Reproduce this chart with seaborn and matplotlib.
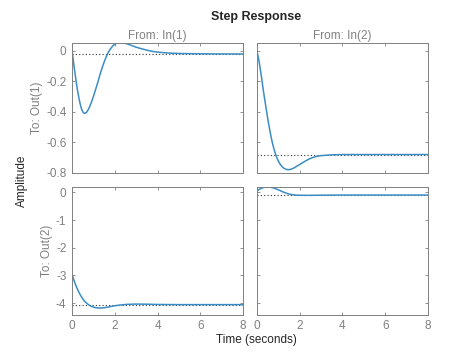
import matplotlib
matplotlib.use("Agg")
import matplotlib.pyplot as plt
import seaborn as sns
import pandas as pd

# Step response values (time in seconds)
t_11 = [0, 0.05, 0.1, 0.15, 0.2, 0.25, 0.3, 0.35, 0.4, 0.45, 0.5, 0.55, 0.6, 0.65, 0.7, 0.8, 0.9, 1.0, 1.1, 1.2, 1.3, 1.4, 1.5, 1.6, 1.7, 1.8, 1.9, 2.0, 2.1, 2.2, 2.3, 2.4, 2.55, 2.7, 2.85, 3.0, 3.25, 3.5, 3.75, 4.0, 4.5, 5.0, 6.0, 7.0, 8.0]
y_11 = [0, -0.055, -0.11, -0.16, -0.21, -0.255, -0.295, -0.33, -0.36, -0.385, -0.40, -0.408, -0.41, -0.407, -0.40, -0.375, -0.34, -0.30, -0.255, -0.21, -0.16, -0.115, -0.075, -0.04, -0.01, 0.012, 0.03, 0.042, 0.049, 0.052, 0.052, 0.05, 0.045, 0.038, 0.03, 0.022, 0.012, 0.003, -0.005, -0.01, -0.016, -0.019, -0.021, -0.022, -0.022]

t_12 = [0, 0.1, 0.2, 0.3, 0.4, 0.5, 0.6, 0.7, 0.8, 0.9, 1.0, 1.1, 1.2, 1.3, 1.4, 1.5, 1.6, 1.7, 1.8, 2.0, 2.2, 2.4, 2.6, 2.8, 3.0, 3.5, 4.0, 8.0]
y_12 = [0, -0.07, -0.16, -0.26, -0.35, -0.44, -0.52, -0.59, -0.645, -0.69, -0.722, -0.746, -0.763, -0.773, -0.778, -0.779, -0.776, -0.770, -0.762, -0.745, -0.728, -0.712, -0.700, -0.692, -0.687, -0.682, -0.68, -0.68]

t_21 = [0, 0.1, 0.2, 0.3, 0.4, 0.5, 0.6, 0.7, 0.8, 0.9, 1.0, 1.1, 1.2, 1.3, 1.4, 1.5, 1.6, 1.8, 2.0, 2.3, 2.6, 3.0, 3.5, 4.0, 5.0, 8.0]
y_21 = [-2.95, -3.2, -3.4, -3.57, -3.72, -3.84, -3.94, -4.01, -4.07, -4.11, -4.14, -4.16, -4.17, -4.175, -4.17, -4.16, -4.15, -4.12, -4.09, -4.06, -4.04, -4.03, -4.035, -4.045, -4.05, -4.05]

t_22 = [0, 0.1, 0.2, 0.3, 0.4, 0.5, 0.6, 0.7, 0.8, 0.9, 1.0, 1.1, 1.2, 1.3, 1.4, 1.5, 1.6, 1.7, 1.8, 2.0, 2.5, 3.0, 4.0, 8.0]
y_22 = [0.05, 0.1, 0.14, 0.17, 0.185, 0.19, 0.185, 0.17, 0.15, 0.12, 0.09, 0.055, 0.02, -0.01, -0.04, -0.06, -0.08, -0.092, -0.1, -0.108, -0.11, -0.105, -0.1, -0.1]

final_values = [[-0.022, -0.68], [-4.05, -0.1]]
input_names = ["From: In(1)", "From: In(2)"]
output_names = ["To: Out(1)", "To: Out(2)"]
x_ticks = [0, 2, 4, 6, 8]
row_yticks = [[0, -0.2, -0.4, -0.6, -0.8], [0, -1, -2, -3, -4]]
row_ylims = [(-0.8, 0.05), (-4.42, 0.2)]

curves = [[(t_11, y_11), (t_12, y_12)], [(t_21, y_21), (t_22, y_22)]]

sns.set_style("white")
plt.rcParams['font.family'] = ['Liberation Sans', 'DejaVu Sans']
plt.rcParams['axes.unicode_minus'] = False

gray = "#808080"
line_color = "#3a8dc4"

fig = plt.figure(figsize=(4.74, 3.55), dpi=100)

lefts = [0.152, 0.542]
bottoms = [0.513, 0.113]
heights = [0.366, 0.361]
width = 0.361

for r in range(2):
    for c in range(2):
        ax = fig.add_axes([lefts[c], bottoms[r], width, heights[r]])
        t, y = curves[r][c]
        df = pd.DataFrame({"t": t, "y": y})
        sns.lineplot(data=df, x="t", y="y", ax=ax, color=line_color, linewidth=1.1)
        ax.axhline(final_values[r][c], color="#333333", linestyle=(0, (1, 2)), linewidth=0.8, zorder=1)
        ax.set_xlim(0, 8)
        ax.set_ylim(*row_ylims[r])
        ax.set_xticks(x_ticks)
        ax.set_yticks(row_yticks[r])
        ax.tick_params(direction="in", length=2.5, width=0.6, colors=gray, labelsize=8.5,
                       top=True, right=True, bottom=True, left=True)
        ax.tick_params(axis="x", pad=4)
        ax.tick_params(axis="y", pad=4)
        ax.set_xlabel("")
        ax.set_ylabel("")
        if r == 0:
            ax.set_xticklabels([])
            ax.set_title(input_names[c], color=gray, fontsize=8.5, pad=3)
        else:
            ax.set_xticklabels([str(v) for v in x_ticks])
        if c == 1:
            ax.set_yticklabels([])
        else:
            ax.set_yticklabels([f"{v:g}" for v in row_yticks[r]])
            ax.set_ylabel(output_names[r], color=gray, fontsize=8.5, labelpad=2)
        for s in ax.spines.values():
            s.set_color(gray)
            s.set_linewidth(0.7)

fig.text(0.54, 0.952, "Step Response", ha="center", va="center", fontsize=9, fontweight="bold")
fig.text(0.046, 0.49, "Amplitude", ha="center", va="center", rotation=90, fontsize=8.5)
fig.text(0.54, 0.043, "Time (seconds)", ha="center", va="center", fontsize=8.5)

fig.savefig("out.png", dpi=100)
